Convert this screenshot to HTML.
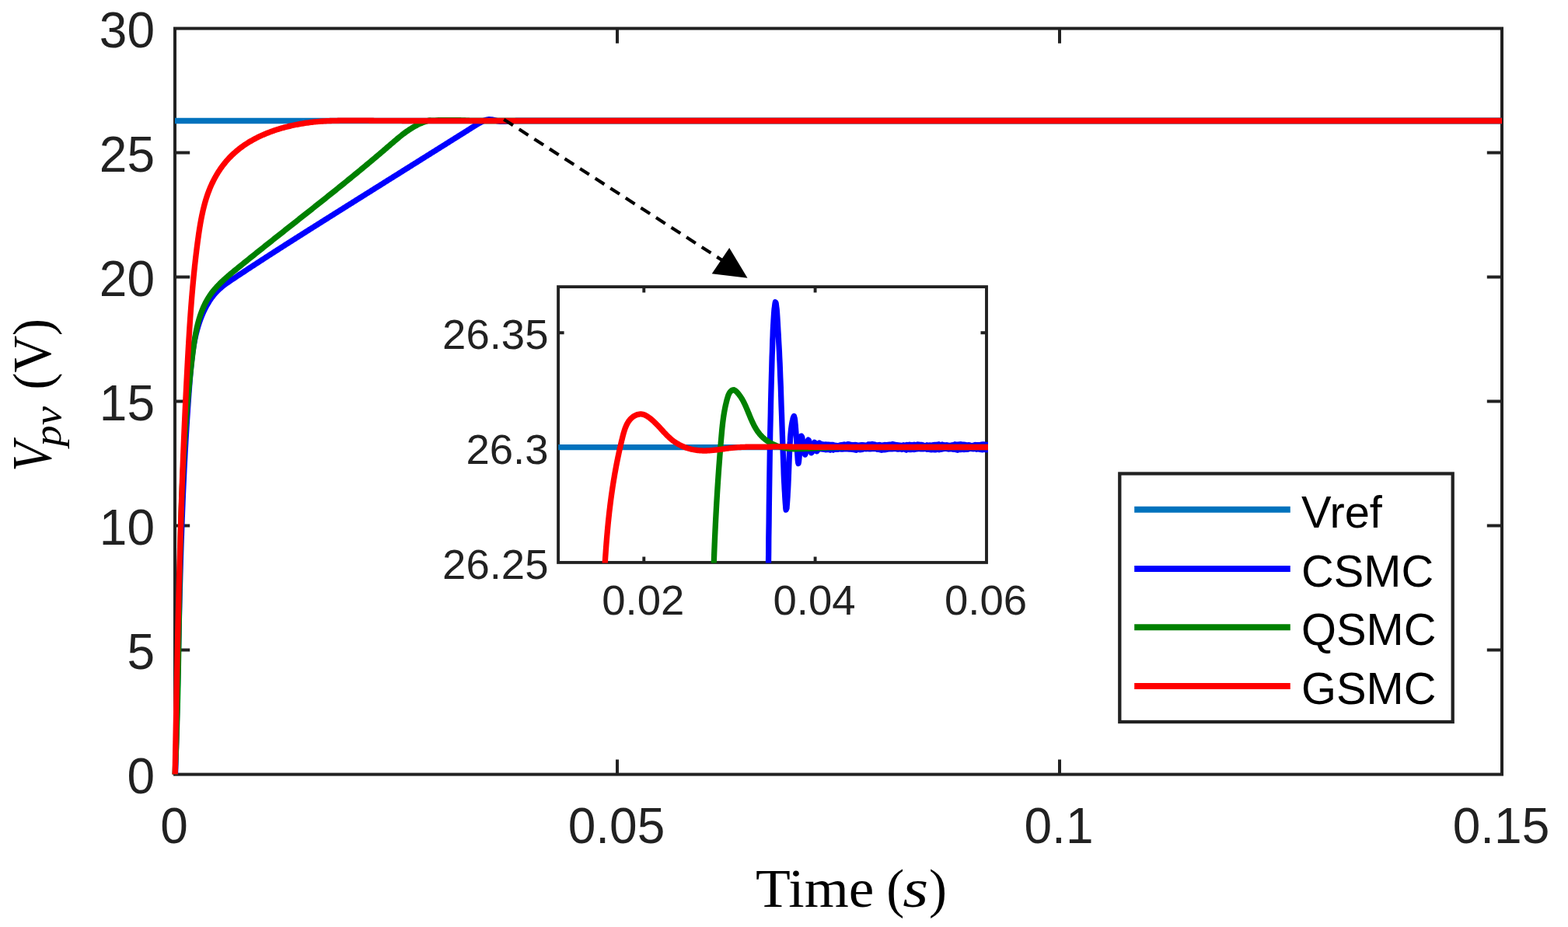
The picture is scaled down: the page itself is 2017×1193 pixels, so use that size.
<!DOCTYPE html>
<html><head><meta charset="utf-8"><title>Vpv response</title>
<style>html,body{margin:0;padding:0;background:#fff;}body{width:2017px;height:1193px;overflow:hidden;}svg{display:block;}</style>
</head><body>
<svg width="2017" height="1193" viewBox="0 0 2017 1193">
<rect width="2017" height="1193" fill="#fff"/>
<defs><clipPath id="cm"><rect x="225.0" y="36.6" width="1707.5" height="960.5"/></clipPath><clipPath id="ci"><rect x="718.1" y="369.1" width="552.9" height="355.4"/></clipPath></defs>
<g fill="none" stroke="#212121" stroke-width="4" stroke-linecap="butt">
<rect x="225.0" y="36.6" width="1707.0" height="960.0" stroke-linejoin="miter"/>
<path d="M794.0 996.6V977.4 M794.0 36.6V55.8 M1363.0 996.6V977.4 M1363.0 36.6V55.8 M225.0 836.6H244.2 M1932.0 836.6H1912.8 M225.0 676.6H244.2 M1932.0 676.6H1912.8 M225.0 516.6H244.2 M1932.0 516.6H1912.8 M225.0 356.6H244.2 M1932.0 356.6H1912.8 M225.0 196.6H244.2 M1932.0 196.6H1912.8"/>
</g>
<g font-family="'Liberation Sans', Arial, Helvetica, sans-serif" font-size="64" fill="#212121">
<text x="199" y="1021.2" text-anchor="end">0</text>
<text x="199" y="861.2" text-anchor="end">5</text>
<text x="199" y="701.2" text-anchor="end">10</text>
<text x="199" y="541.2" text-anchor="end">15</text>
<text x="199" y="381.2" text-anchor="end">20</text>
<text x="199" y="221.2" text-anchor="end">25</text>
<text x="199" y="61.2" text-anchor="end">30</text>
<text x="224.0" y="1084.5" text-anchor="middle">0</text>
<text x="793.0" y="1084.5" text-anchor="middle">0.05</text>
<text x="1362.0" y="1084.5" text-anchor="middle">0.1</text>
<text x="1931.0" y="1084.5" text-anchor="middle">0.15</text>
</g>
<g font-family="'Liberation Serif', 'Times New Roman', serif" font-size="69" fill="#000"><text x="972" y="1166.6" textLength="152.3" lengthAdjust="spacingAndGlyphs">Time</text><text x="1140.3" y="1166.6">(</text><text x="1161.3" y="1166.6" font-style="italic" textLength="33" lengthAdjust="spacingAndGlyphs">s</text><text x="1195" y="1166.6">)</text></g>
<g transform="translate(64.9,0) rotate(-90)" font-family="'Liberation Serif', 'Times New Roman', serif" fill="#000"><text x="-606.7" y="0" font-size="71.3" font-style="italic" textLength="37.8" lengthAdjust="spacingAndGlyphs">V</text><text x="-574.6" y="13.1" font-size="50" font-style="italic" textLength="51.5" lengthAdjust="spacingAndGlyphs">pv</text><text x="-501.6" y="0" font-size="69" textLength="91.6" lengthAdjust="spacingAndGlyphs">(V)</text></g>
<g fill="none" stroke-width="7.3" stroke-linejoin="miter" stroke-miterlimit="4" stroke-linecap="butt">
<path d="M225.0 155.5H1932.0" stroke="#0072BD"/>
<path d="M225.52 996.76 L225.56 995.47 L225.60 994.17 L225.64 992.87 L225.68 991.58 L225.72 990.28 L225.76 988.98 L225.79 987.69 L225.83 986.39 L225.87 985.10 L225.91 983.80 L225.94 982.51 L225.98 981.21 L226.02 979.92 L226.05 978.63 L226.09 977.33 L226.13 976.04 L226.16 974.74 L226.20 973.45 L226.23 972.16 L226.27 970.86 L226.31 969.57 L226.34 968.28 L226.38 966.99 L226.41 965.70 L226.45 964.40 L226.48 963.11 L226.52 961.82 L226.55 960.53 L226.58 959.24 L226.62 957.95 L226.65 956.65 L226.69 955.36 L226.72 954.07 L226.75 952.78 L226.79 951.49 L226.82 950.20 L226.85 948.91 L226.89 947.62 L226.92 946.33 L226.95 945.04 L226.99 943.76 L227.02 942.47 L227.05 941.18 L227.08 939.89 L227.11 938.60 L227.15 937.31 L227.18 936.02 L227.21 934.74 L227.24 933.45 L227.27 932.16 L227.31 930.87 L227.34 929.59 L227.37 928.30 L227.40 927.01 L227.43 925.73 L227.46 924.44 L227.49 923.15 L227.52 921.87 L227.55 920.58 L227.59 919.29 L227.62 918.01 L227.65 916.72 L227.68 915.44 L227.71 914.15 L227.74 912.86 L227.77 911.58 L227.80 910.29 L227.83 909.01 L227.86 907.72 L227.89 906.44 L227.92 905.16 L227.95 903.87 L227.98 902.59 L228.01 901.30 L228.04 900.02 L228.07 898.73 L228.09 897.45 L228.12 896.17 L228.15 894.88 L228.18 893.60 L228.21 892.32 L228.24 891.03 L228.27 889.75 L228.30 888.47 L228.33 887.19 L228.36 885.90 L228.39 884.62 L228.42 883.34 L228.44 882.06 L228.47 880.77 L228.50 879.49 L228.53 878.21 L228.56 876.93 L228.59 875.65 L228.62 874.36 L228.65 873.08 L228.67 871.80 L228.70 870.52 L228.73 869.24 L228.76 867.96 L228.79 866.68 L228.82 865.40 L228.85 864.12 L228.87 862.83 L228.90 861.55 L228.93 860.27 L228.96 858.99 L228.99 857.71 L229.02 856.43 L229.04 855.15 L229.07 853.87 L229.10 852.59 L229.13 851.31 L229.16 850.03 L229.19 848.75 L229.22 847.47 L229.24 846.20 L229.27 844.92 L229.30 843.64 L229.33 842.36 L229.36 841.08 L229.39 839.80 L229.42 838.52 L229.45 837.24 L229.47 835.96 L229.50 834.68 L229.53 833.40 L229.56 832.13 L229.59 830.85 L229.62 829.57 L229.65 828.29 L229.68 827.01 L229.70 825.73 L229.73 824.46 L229.76 823.18 L229.79 821.90 L229.82 820.62 L229.85 819.34 L229.88 818.07 L229.91 816.79 L229.94 815.51 L229.97 814.23 L230.00 812.96 L230.03 811.68 L230.06 810.40 L230.09 809.12 L230.12 807.85 L230.15 806.57 L230.18 805.29 L230.21 804.01 L230.24 802.74 L230.27 801.46 L230.30 800.18 L230.33 798.90 L230.36 797.63 L230.39 796.35 L230.42 795.07 L230.45 793.80 L230.48 792.52 L230.51 791.24 L230.54 789.97 L230.57 788.69 L230.60 787.41 L230.63 786.14 L230.67 784.86 L230.70 783.58 L230.73 782.31 L230.76 781.03 L230.79 779.75 L230.82 778.48 L230.86 777.20 L230.89 775.92 L230.92 774.65 L230.95 773.37 L230.99 772.09 L231.02 770.82 L231.05 769.54 L231.08 768.26 L231.12 766.99 L231.15 765.71 L231.18 764.44 L231.22 763.16 L231.25 761.88 L231.28 760.61 L231.32 759.33 L231.35 758.05 L231.38 756.78 L231.42 755.50 L231.45 754.22 L231.49 752.95 L231.52 751.67 L231.56 750.40 L231.59 749.12 L231.63 747.84 L231.66 746.57 L231.70 745.29 L231.73 744.01 L231.77 742.74 L231.80 741.46 L231.84 740.19 L231.87 738.91 L231.91 737.63 L231.95 736.36 L231.98 735.08 L232.02 733.80 L232.06 732.53 L232.09 731.25 L232.13 729.97 L232.17 728.70 L232.21 727.42 L232.25 726.15 L232.28 724.87 L232.32 723.59 L232.36 722.32 L232.40 721.04 L232.44 719.76 L232.48 718.49 L232.52 717.21 L232.55 715.93 L232.59 714.66 L232.63 713.38 L232.67 712.10 L232.71 710.83 L232.75 709.55 L232.79 708.27 L232.84 707.00 L232.88 705.72 L232.92 704.44 L232.96 703.16 L233.00 701.89 L233.04 700.61 L233.08 699.33 L233.13 698.06 L233.17 696.78 L233.21 695.50 L233.26 694.22 L233.30 692.95 L233.34 691.67 L233.39 690.39 L233.43 689.11 L233.47 687.84 L233.52 686.56 L233.56 685.28 L233.61 684.00 L233.65 682.73 L233.70 681.45 L233.74 680.17 L233.79 678.89 L233.84 677.61 L233.88 676.34 L233.93 675.06 L233.98 673.78 L234.02 672.50 L234.07 671.22 L234.12 669.94 L234.17 668.67 L234.21 667.39 L234.26 666.11 L234.31 664.83 L234.36 663.55 L234.41 662.27 L234.46 660.99 L234.51 659.71 L234.56 658.43 L234.61 657.15 L234.66 655.88 L234.71 654.60 L234.76 653.32 L234.81 652.04 L234.86 650.76 L234.92 649.48 L234.97 648.20 L235.02 646.92 L235.07 645.64 L235.13 644.36 L235.18 643.08 L235.24 641.80 L235.29 640.52 L235.34 639.24 L235.40 637.96 L235.45 636.67 L235.51 635.39 L235.56 634.11 L235.62 632.83 L235.68 631.55 L235.73 630.27 L235.79 628.99 L235.85 627.71 L235.91 626.43 L235.96 625.14 L236.02 623.86 L236.08 622.58 L236.14 621.30 L236.20 620.02 L236.26 618.73 L236.32 617.45 L236.38 616.17 L236.44 614.89 L236.50 613.60 L236.56 612.32 L236.62 611.04 L236.68 609.76 L236.75 608.47 L236.81 607.19 L236.87 605.91 L236.94 604.62 L237.00 603.34 L237.06 602.05 L237.13 600.77 L237.19 599.49 L237.26 598.20 L237.32 596.92 L237.39 595.63 L237.46 594.35 L237.52 593.06 L237.59 591.78 L237.66 590.49 L237.72 589.21 L237.79 587.92 L237.86 586.64 L237.93 585.35 L238.00 584.07 L238.07 582.78 L238.14 581.50 L238.21 580.21 L238.28 578.92 L238.35 577.64 L238.42 576.35 L238.49 575.06 L238.57 573.78 L238.64 572.49 L238.71 571.20 L238.79 569.91 L238.86 568.63 L238.93 567.34 L239.01 566.05 L239.08 564.76 L239.16 563.47 L239.24 562.19 L239.31 560.90 L239.39 559.61 L239.47 558.32 L239.54 557.03 L239.62 555.74 L239.70 554.45 L239.78 553.16 L239.86 551.87 L239.94 550.58 L240.02 549.29 L240.10 548.00 L240.18 546.71 L240.26 545.42 L240.35 544.13 L240.43 542.84 L240.51 541.55 L240.59 540.26 L240.68 538.97 L240.76 537.67 L240.85 536.38 L240.93 535.09 L241.02 533.80 L241.10 532.51 L241.19 531.21 L241.28 529.92 L241.36 528.63 L241.45 527.33 L241.54 526.04 L241.63 524.75 L241.72 523.45 L241.81 522.16 L241.90 520.86 L241.99 519.57 L242.08 518.28 L242.17 516.98 L242.26 515.69 L242.36 514.39 L242.45 513.10 L242.54 511.80 L242.64 510.50 L242.73 509.21 L242.83 507.91 L242.92 506.61 L243.02 505.32 L243.11 504.02 L243.21 502.72 L243.31 501.43 L243.41 500.13 L243.50 498.83 L243.60 497.53 L243.70 496.23 L243.80 494.94 L243.90 493.64 L244.00 492.34 L244.11 491.04 L244.21 489.74 L244.31 488.44 L244.41 487.14 L244.52 485.84 L244.62 484.54 L244.73 483.24 L244.84 481.94 L244.95 480.64 L245.06 479.34 L245.17 478.05 L245.28 476.75 L245.40 475.45 L245.52 474.15 L245.64 472.86 L245.76 471.56 L245.89 470.27 L246.02 468.97 L246.15 467.68 L246.28 466.39 L246.42 465.10 L246.56 463.81 L246.71 462.52 L246.86 461.23 L247.01 459.95 L247.17 458.66 L247.33 457.38 L247.49 456.10 L247.66 454.82 L247.84 453.54 L248.01 452.27 L248.20 450.99 L248.39 449.72 L248.58 448.45 L248.78 447.18 L248.99 445.92 L249.20 444.65 L249.41 443.39 L249.64 442.14 L249.86 440.88 L250.10 439.63 L250.34 438.38 L250.59 437.13 L250.84 435.89 L251.11 434.64 L251.37 433.40 L251.65 432.17 L251.93 430.94 L252.22 429.71 L252.52 428.48 L252.83 427.26 L253.14 426.04 L253.46 424.82 L253.79 423.61 L254.13 422.40 L254.48 421.19 L254.83 419.99 L255.20 418.80 L255.57 417.60 L255.96 416.41 L256.35 415.23 L256.75 414.05 L257.16 412.87 L257.58 411.70 L258.01 410.53 L258.45 409.36 L258.90 408.20 L259.36 407.05 L259.84 405.90 L260.32 404.75 L260.81 403.61 L261.32 402.48 L261.83 401.35 L262.36 400.22 L262.90 399.10 L263.45 397.98 L264.01 396.87 L264.58 395.77 L265.16 394.67 L265.76 393.57 L266.37 392.49 L266.99 391.40 L267.63 390.33 L268.28 389.25 L268.94 388.19 L269.61 387.14 L270.30 386.09 L271.00 385.05 L271.72 384.02 L272.45 383.00 L273.20 381.99 L273.96 381.00 L274.74 380.01 L275.53 379.04 L276.34 378.08 L277.17 377.13 L278.02 376.20 L278.88 375.29 L279.76 374.39 L280.65 373.50 L281.57 372.64 L282.50 371.78 L283.44 370.95 L284.41 370.12 L285.38 369.31 L286.37 368.51 L287.36 367.72 L288.37 366.94 L289.39 366.17 L290.42 365.41 L291.46 364.66 L292.50 363.92 L293.56 363.18 L294.61 362.45 L295.67 361.72 L296.74 361.00 L297.81 360.28 L298.88 359.57 L299.95 358.85 L301.02 358.14 L302.09 357.42 L303.17 356.71 L304.24 356.00 L305.31 355.29 L306.38 354.57 L307.46 353.86 L308.53 353.15 L309.60 352.44 L310.68 351.73 L311.75 351.02 L312.83 350.32 L313.90 349.61 L314.97 348.90 L316.05 348.19 L317.12 347.49 L318.20 346.78 L319.27 346.07 L320.35 345.37 L321.42 344.66 L322.50 343.96 L323.58 343.25 L324.65 342.55 L325.73 341.85 L326.80 341.14 L327.88 340.44 L328.96 339.74 L330.03 339.04 L331.11 338.34 L332.19 337.64 L333.27 336.94 L334.34 336.24 L335.42 335.54 L336.50 334.84 L337.58 334.14 L338.65 333.44 L339.73 332.74 L340.81 332.04 L341.89 331.35 L342.97 330.65 L344.05 329.95 L345.12 329.26 L346.20 328.56 L347.28 327.86 L348.36 327.17 L349.44 326.47 L350.52 325.78 L351.60 325.08 L352.68 324.39 L353.76 323.70 L354.84 323.00 L355.92 322.31 L357.00 321.62 L358.08 320.92 L359.16 320.23 L360.24 319.54 L361.32 318.85 L362.40 318.15 L363.49 317.46 L364.57 316.77 L365.65 316.08 L366.73 315.39 L367.81 314.70 L368.89 314.01 L369.97 313.32 L371.06 312.63 L372.14 311.94 L373.22 311.25 L374.30 310.56 L375.38 309.87 L376.47 309.19 L377.55 308.50 L378.63 307.81 L379.71 307.12 L380.80 306.43 L381.88 305.75 L382.96 305.06 L384.05 304.37 L385.13 303.69 L386.21 303.00 L387.30 302.31 L388.38 301.63 L389.46 300.94 L390.55 300.25 L391.63 299.57 L392.71 298.88 L393.80 298.20 L394.88 297.51 L395.97 296.83 L397.05 296.14 L398.13 295.46 L399.22 294.77 L400.30 294.09 L401.39 293.40 L402.47 292.72 L403.56 292.03 L404.64 291.35 L405.72 290.66 L406.81 289.98 L407.89 289.30 L408.98 288.61 L410.06 287.93 L411.15 287.24 L412.23 286.56 L413.32 285.88 L414.40 285.19 L415.49 284.51 L416.57 283.83 L417.66 283.14 L418.74 282.46 L419.83 281.78 L420.92 281.09 L422.00 280.41 L423.09 279.73 L424.17 279.04 L425.26 278.36 L426.34 277.68 L427.43 276.99 L428.51 276.31 L429.60 275.63 L430.69 274.94 L431.77 274.26 L432.86 273.58 L433.94 272.90 L435.03 272.21 L436.11 271.53 L437.20 270.85 L438.29 270.16 L439.37 269.48 L440.46 268.80 L441.55 268.12 L442.63 267.43 L443.72 266.75 L444.80 266.07 L445.89 265.38 L446.98 264.70 L448.06 264.02 L449.15 263.34 L450.24 262.65 L451.32 261.97 L452.41 261.29 L453.50 260.61 L454.58 259.93 L455.67 259.24 L456.76 258.56 L457.84 257.88 L458.93 257.20 L460.02 256.51 L461.10 255.83 L462.19 255.15 L463.28 254.47 L464.36 253.79 L465.45 253.10 L466.54 252.42 L467.62 251.74 L468.71 251.06 L469.80 250.37 L470.88 249.69 L471.97 249.01 L473.06 248.33 L474.14 247.65 L475.23 246.96 L476.32 246.28 L477.41 245.60 L478.49 244.92 L479.58 244.24 L480.67 243.56 L481.75 242.87 L482.84 242.19 L483.93 241.51 L485.02 240.83 L486.10 240.15 L487.19 239.46 L488.28 238.78 L489.36 238.10 L490.45 237.42 L491.54 236.74 L492.63 236.06 L493.71 235.37 L494.80 234.69 L495.89 234.01 L496.98 233.33 L498.06 232.65 L499.15 231.97 L500.24 231.28 L501.33 230.60 L502.41 229.92 L503.50 229.24 L504.59 228.56 L505.68 227.88 L506.76 227.19 L507.85 226.51 L508.94 225.83 L510.03 225.15 L511.11 224.47 L512.20 223.79 L513.29 223.10 L514.38 222.42 L515.46 221.74 L516.55 221.06 L517.64 220.38 L518.73 219.70 L519.81 219.02 L520.90 218.33 L521.99 217.65 L523.08 216.97 L524.16 216.29 L525.25 215.61 L526.34 214.93 L527.43 214.24 L528.51 213.56 L529.60 212.88 L530.69 212.20 L531.78 211.52 L532.86 210.84 L533.95 210.16 L535.04 209.47 L536.13 208.79 L537.21 208.11 L538.30 207.43 L539.39 206.75 L540.48 206.07 L541.56 205.38 L542.65 204.70 L543.74 204.02 L544.82 203.34 L545.91 202.66 L547.00 201.98 L548.09 201.29 L549.17 200.61 L550.26 199.93 L551.35 199.25 L552.44 198.57 L553.52 197.89 L554.61 197.20 L555.70 196.52 L556.79 195.84 L557.87 195.16 L558.96 194.48 L560.05 193.80 L561.13 193.11 L562.22 192.43 L563.31 191.75 L564.40 191.07 L565.48 190.39 L566.57 189.71 L567.66 189.02 L568.74 188.34 L569.83 187.66 L570.92 186.98 L572.01 186.30 L573.09 185.61 L574.18 184.93 L575.27 184.25 L576.35 183.57 L577.44 182.89 L578.53 182.21 L579.61 181.52 L580.70 180.84 L581.79 180.16 L582.87 179.48 L583.96 178.79 L585.05 178.11 L586.13 177.43 L587.22 176.75 L588.31 176.07 L589.39 175.38 L590.48 174.70 L591.57 174.02 L592.65 173.34 L593.74 172.66 L594.83 171.97 L595.91 171.29 L597.00 170.61 L598.09 169.93 L599.17 169.24 L600.26 168.56 L601.35 167.88 L602.43 167.20 L603.52 166.51 L604.60 165.83 L605.69 165.15 L606.78 164.47 L607.86 163.78 L608.95 163.10 L610.03 162.42 L611.12 161.74 L612.14 161.10 L613.19 160.45 L614.24 159.82 L615.29 159.21 L616.34 158.62 L617.44 158.02 L618.54 157.44 L619.64 156.86 L620.74 156.26 L621.84 155.66 L622.94 155.11 L624.09 154.65 L625.29 154.34 L626.49 154.10 L627.69 153.89 L628.89 153.75 L630.09 153.70 L631.29 153.77 L632.49 153.92 L633.69 154.13 L634.89 154.38 L636.09 154.62 L637.29 154.93 L638.44 155.31 L639.59 155.69 L640.79 156.02 L641.99 156.20 L643.19 156.27 L644.39 156.32 L645.59 156.36 L646.79 156.39 L647.99 156.40 L649.19 156.36 L650.39 156.26 L651.59 156.13 L652.79 155.99 L653.99 155.87 L655.19 155.79 L656.39 155.74 L657.59 155.69 L658.79 155.64 L659.99 155.59 L661.19 155.56 L662.39 155.53 L663.59 155.51 L664.79 155.50 L665.99 155.50 L667.24 155.50 L668.49 155.50 L669.74 155.50 L670.99 155.50 L672.24 155.50 L673.49 155.50 L674.74 155.50 L675.99 155.50 L677.24 155.50 L678.49 155.50 L679.74 155.50 L680.99 155.50 L682.24 155.50 L683.49 155.50 L684.74 155.50 L685.99 155.50 L687.24 155.50 L688.49 155.50 L689.74 155.50 L690.00 155.50 L1932 155.5" stroke="#0000FF"/>
<path d="M225.08 996.76 L225.14 995.52 L225.20 994.27 L225.26 993.03 L225.32 991.79 L225.38 990.55 L225.44 989.30 L225.50 988.06 L225.56 986.82 L225.61 985.58 L225.67 984.34 L225.73 983.10 L225.78 981.86 L225.84 980.62 L225.89 979.38 L225.95 978.14 L226.00 976.90 L226.05 975.66 L226.10 974.42 L226.16 973.18 L226.21 971.94 L226.26 970.70 L226.31 969.46 L226.36 968.22 L226.41 966.98 L226.46 965.74 L226.51 964.50 L226.56 963.26 L226.61 962.03 L226.65 960.79 L226.70 959.55 L226.75 958.31 L226.79 957.07 L226.84 955.84 L226.88 954.60 L226.93 953.36 L226.97 952.12 L227.02 950.89 L227.06 949.65 L227.10 948.41 L227.15 947.18 L227.19 945.94 L227.23 944.70 L227.27 943.47 L227.31 942.23 L227.35 940.99 L227.40 939.76 L227.43 938.52 L227.47 937.29 L227.51 936.05 L227.55 934.82 L227.59 933.58 L227.63 932.35 L227.67 931.11 L227.70 929.88 L227.74 928.64 L227.78 927.41 L227.81 926.17 L227.85 924.94 L227.89 923.70 L227.92 922.47 L227.96 921.23 L227.99 920.00 L228.02 918.77 L228.06 917.53 L228.09 916.30 L228.12 915.07 L228.16 913.83 L228.19 912.60 L228.22 911.37 L228.25 910.13 L228.29 908.90 L228.32 907.67 L228.35 906.43 L228.38 905.20 L228.41 903.97 L228.44 902.74 L228.47 901.50 L228.50 900.27 L228.53 899.04 L228.56 897.81 L228.58 896.58 L228.61 895.35 L228.64 894.11 L228.67 892.88 L228.70 891.65 L228.72 890.42 L228.75 889.19 L228.78 887.96 L228.80 886.73 L228.83 885.49 L228.86 884.26 L228.88 883.03 L228.91 881.80 L228.93 880.57 L228.96 879.34 L228.98 878.11 L229.01 876.88 L229.03 875.65 L229.06 874.42 L229.08 873.19 L229.11 871.96 L229.13 870.73 L229.15 869.50 L229.18 868.27 L229.20 867.04 L229.22 865.81 L229.25 864.58 L229.27 863.35 L229.29 862.12 L229.31 860.89 L229.33 859.66 L229.36 858.44 L229.38 857.21 L229.40 855.98 L229.42 854.75 L229.44 853.52 L229.46 852.29 L229.48 851.06 L229.51 849.83 L229.53 848.61 L229.55 847.38 L229.57 846.15 L229.59 844.92 L229.61 843.69 L229.63 842.46 L229.65 841.24 L229.67 840.01 L229.69 838.78 L229.71 837.55 L229.73 836.32 L229.75 835.10 L229.76 833.87 L229.78 832.64 L229.80 831.41 L229.82 830.19 L229.84 828.96 L229.86 827.73 L229.88 826.50 L229.90 825.28 L229.92 824.05 L229.93 822.82 L229.95 821.60 L229.97 820.37 L229.99 819.14 L230.01 817.91 L230.03 816.69 L230.04 815.46 L230.06 814.23 L230.08 813.01 L230.10 811.78 L230.12 810.55 L230.13 809.33 L230.15 808.10 L230.17 806.87 L230.19 805.65 L230.21 804.42 L230.22 803.19 L230.24 801.97 L230.26 800.74 L230.28 799.52 L230.29 798.29 L230.31 797.06 L230.33 795.84 L230.35 794.61 L230.37 793.38 L230.38 792.16 L230.40 790.93 L230.42 789.71 L230.44 788.48 L230.46 787.25 L230.47 786.03 L230.49 784.80 L230.51 783.58 L230.53 782.35 L230.55 781.13 L230.57 779.90 L230.58 778.67 L230.60 777.45 L230.62 776.22 L230.64 775.00 L230.66 773.77 L230.68 772.55 L230.70 771.32 L230.71 770.09 L230.73 768.87 L230.75 767.64 L230.77 766.42 L230.79 765.19 L230.81 763.97 L230.83 762.74 L230.85 761.52 L230.87 760.29 L230.89 759.07 L230.91 757.84 L230.93 756.61 L230.95 755.39 L230.97 754.16 L230.99 752.94 L231.01 751.71 L231.03 750.49 L231.05 749.26 L231.07 748.04 L231.09 746.81 L231.11 745.59 L231.13 744.36 L231.16 743.14 L231.18 741.91 L231.20 740.69 L231.22 739.46 L231.24 738.23 L231.27 737.01 L231.29 735.78 L231.31 734.56 L231.33 733.33 L231.36 732.11 L231.38 730.88 L231.40 729.66 L231.43 728.43 L231.45 727.21 L231.47 725.98 L231.50 724.76 L231.52 723.53 L231.55 722.30 L231.57 721.08 L231.60 719.85 L231.62 718.63 L231.65 717.40 L231.67 716.18 L231.70 714.95 L231.73 713.73 L231.75 712.50 L231.78 711.28 L231.81 710.05 L231.83 708.82 L231.86 707.60 L231.89 706.37 L231.92 705.15 L231.94 703.92 L231.97 702.70 L232.00 701.47 L232.03 700.24 L232.06 699.02 L232.09 697.79 L232.12 696.57 L232.15 695.34 L232.18 694.12 L232.21 692.89 L232.24 691.66 L232.27 690.44 L232.31 689.21 L232.34 687.99 L232.37 686.76 L232.40 685.53 L232.44 684.31 L232.47 683.08 L232.50 681.86 L232.54 680.63 L232.57 679.40 L232.61 678.18 L232.64 676.95 L232.68 675.72 L232.71 674.50 L232.75 673.27 L232.78 672.04 L232.82 670.82 L232.86 669.59 L232.89 668.36 L232.93 667.14 L232.97 665.91 L233.01 664.68 L233.05 663.46 L233.09 662.23 L233.13 661.00 L233.17 659.78 L233.21 658.55 L233.25 657.32 L233.29 656.10 L233.33 654.87 L233.37 653.64 L233.42 652.41 L233.46 651.19 L233.50 649.96 L233.55 648.73 L233.59 647.50 L233.64 646.28 L233.68 645.05 L233.73 643.82 L233.77 642.59 L233.82 641.36 L233.86 640.14 L233.91 638.91 L233.96 637.68 L234.01 636.45 L234.06 635.22 L234.11 634.00 L234.15 632.77 L234.20 631.54 L234.26 630.31 L234.31 629.08 L234.36 627.85 L234.41 626.63 L234.46 625.40 L234.52 624.17 L234.57 622.94 L234.62 621.71 L234.68 620.48 L234.73 619.25 L234.79 618.02 L234.84 616.79 L234.90 615.56 L234.96 614.33 L235.01 613.10 L235.07 611.87 L235.13 610.64 L235.19 609.42 L235.25 608.19 L235.31 606.96 L235.37 605.73 L235.43 604.50 L235.49 603.26 L235.55 602.03 L235.62 600.80 L235.68 599.57 L235.74 598.34 L235.81 597.11 L235.87 595.88 L235.94 594.65 L236.01 593.42 L236.07 592.19 L236.14 590.96 L236.21 589.73 L236.28 588.49 L236.35 587.26 L236.42 586.03 L236.49 584.80 L236.56 583.57 L236.63 582.34 L236.70 581.10 L236.77 579.87 L236.85 578.64 L236.92 577.41 L237.00 576.18 L237.07 574.94 L237.15 573.71 L237.22 572.48 L237.30 571.25 L237.38 570.01 L237.46 568.78 L237.54 567.55 L237.62 566.31 L237.70 565.08 L237.78 563.85 L237.86 562.61 L237.94 561.38 L238.02 560.15 L238.11 558.91 L238.19 557.68 L238.28 556.44 L238.36 555.21 L238.45 553.97 L238.54 552.74 L238.62 551.51 L238.71 550.27 L238.80 549.04 L238.89 547.80 L238.98 546.57 L239.07 545.33 L239.17 544.09 L239.26 542.86 L239.35 541.62 L239.45 540.39 L239.54 539.15 L239.64 537.92 L239.73 536.68 L239.83 535.44 L239.93 534.21 L240.03 532.97 L240.13 531.73 L240.23 530.50 L240.33 529.26 L240.43 528.02 L240.53 526.79 L240.64 525.55 L240.74 524.31 L240.84 523.07 L240.95 521.83 L241.06 520.60 L241.16 519.36 L241.27 518.12 L241.38 516.88 L241.49 515.64 L241.60 514.41 L241.71 513.17 L241.82 511.93 L241.93 510.69 L242.05 509.45 L242.16 508.21 L242.28 506.97 L242.39 505.73 L242.51 504.49 L242.63 503.25 L242.75 502.01 L242.86 500.77 L242.98 499.53 L243.11 498.29 L243.23 497.05 L243.35 495.81 L243.47 494.57 L243.60 493.32 L243.72 492.08 L243.85 490.84 L243.97 489.60 L244.10 488.36 L244.23 487.12 L244.36 485.87 L244.49 484.63 L244.62 483.39 L244.75 482.15 L244.89 480.90 L245.02 479.66 L245.16 478.42 L245.29 477.17 L245.43 475.93 L245.57 474.69 L245.70 473.44 L245.84 472.20 L245.98 470.95 L246.12 469.71 L246.27 468.46 L246.41 467.22 L246.55 465.97 L246.70 464.73 L246.84 463.48 L246.99 462.24 L247.14 460.99 L247.29 459.75 L247.44 458.50 L247.59 457.26 L247.74 456.01 L247.89 454.76 L248.05 453.52 L248.20 452.27 L248.36 451.03 L248.53 449.78 L248.69 448.54 L248.86 447.30 L249.02 446.06 L249.20 444.82 L249.37 443.58 L249.55 442.34 L249.73 441.10 L249.92 439.87 L250.11 438.64 L250.30 437.40 L250.50 436.18 L250.71 434.95 L250.91 433.72 L251.13 432.50 L251.34 431.28 L251.57 430.06 L251.80 428.85 L252.03 427.64 L252.27 426.43 L252.52 425.22 L252.77 424.02 L253.03 422.82 L253.29 421.62 L253.57 420.43 L253.85 419.24 L254.13 418.06 L254.43 416.88 L254.73 415.70 L255.04 414.53 L255.36 413.36 L255.68 412.19 L256.02 411.03 L256.36 409.88 L256.71 408.73 L257.07 407.58 L257.51 406.21 L257.97 404.85 L258.44 403.50 L258.93 402.16 L259.43 400.82 L259.94 399.49 L260.47 398.17 L261.02 396.86 L261.58 395.55 L262.16 394.26 L262.75 392.98 L263.36 391.70 L263.99 390.43 L264.63 389.18 L265.30 387.93 L265.98 386.70 L266.68 385.47 L267.39 384.26 L268.13 383.06 L268.89 381.86 L269.66 380.68 L270.46 379.51 L271.28 378.36 L272.11 377.21 L272.97 376.08 L273.85 374.96 L274.74 373.84 L275.66 372.74 L276.59 371.65 L277.54 370.57 L278.34 369.68 L279.15 368.79 L279.98 367.91 L280.81 367.04 L281.65 366.17 L282.51 365.31 L283.37 364.45 L284.24 363.60 L285.12 362.75 L286.01 361.91 L286.90 361.07 L287.81 360.24 L288.72 359.41 L289.63 358.58 L290.55 357.76 L291.48 356.95 L292.41 356.13 L293.35 355.32 L294.29 354.51 L295.24 353.71 L296.19 352.91 L297.14 352.11 L298.10 351.31 L299.06 350.51 L300.02 349.72 L300.98 348.93 L301.95 348.13 L302.91 347.34 L303.88 346.56 L304.85 345.77 L305.81 344.98 L306.78 344.19 L307.75 343.41 L308.72 342.62 L309.68 341.83 L310.65 341.05 L311.62 340.27 L312.59 339.48 L313.55 338.70 L314.52 337.92 L315.49 337.13 L316.46 336.35 L317.43 335.57 L318.39 334.79 L319.36 334.01 L320.33 333.23 L321.30 332.45 L322.27 331.67 L323.23 330.89 L324.20 330.12 L325.17 329.34 L326.14 328.56 L327.11 327.79 L328.07 327.01 L329.04 326.23 L330.01 325.46 L330.98 324.68 L331.95 323.91 L332.92 323.14 L333.88 322.36 L334.85 321.59 L335.82 320.82 L336.79 320.04 L337.76 319.27 L338.73 318.50 L339.69 317.73 L340.66 316.96 L341.63 316.19 L342.60 315.41 L343.57 314.64 L344.53 313.87 L345.50 313.10 L346.47 312.34 L347.44 311.57 L348.41 310.80 L349.38 310.03 L350.34 309.26 L351.31 308.49 L352.28 307.73 L353.25 306.96 L354.21 306.19 L355.18 305.42 L356.15 304.66 L357.12 303.89 L358.09 303.13 L359.05 302.36 L360.02 301.59 L360.99 300.83 L361.96 300.06 L362.92 299.30 L363.89 298.53 L364.86 297.77 L365.82 297.00 L366.79 296.24 L367.76 295.48 L368.72 294.71 L369.69 293.95 L370.66 293.18 L371.62 292.42 L372.59 291.66 L373.56 290.89 L374.52 290.13 L375.49 289.37 L376.46 288.60 L377.42 287.84 L378.39 287.08 L379.35 286.31 L380.32 285.55 L381.29 284.79 L382.25 284.02 L383.22 283.26 L384.18 282.50 L385.15 281.74 L386.11 280.97 L387.08 280.21 L388.04 279.45 L389.01 278.69 L389.97 277.92 L390.94 277.16 L391.90 276.40 L392.86 275.64 L393.83 274.87 L394.79 274.11 L395.76 273.35 L396.72 272.59 L397.68 271.82 L398.65 271.06 L399.61 270.30 L400.57 269.53 L401.54 268.77 L402.50 268.01 L403.46 267.25 L404.42 266.48 L405.39 265.72 L406.35 264.95 L407.31 264.19 L408.27 263.43 L409.23 262.66 L410.20 261.90 L411.16 261.14 L412.12 260.37 L413.08 259.61 L414.04 258.84 L415.00 258.08 L415.96 257.31 L416.92 256.55 L417.88 255.78 L418.84 255.02 L419.80 254.25 L420.76 253.49 L421.72 252.72 L422.68 251.95 L423.64 251.19 L424.59 250.42 L425.55 249.65 L426.51 248.88 L427.47 248.12 L428.43 247.35 L429.38 246.58 L430.34 245.81 L431.30 245.04 L432.26 244.28 L433.21 243.51 L434.17 242.74 L435.12 241.97 L436.08 241.20 L437.04 240.43 L437.99 239.66 L438.95 238.88 L439.90 238.11 L440.86 237.34 L441.81 236.57 L442.76 235.80 L443.72 235.02 L444.67 234.25 L445.63 233.48 L446.58 232.70 L447.53 231.93 L448.48 231.15 L449.44 230.38 L450.39 229.60 L451.34 228.83 L452.29 228.05 L453.24 227.27 L454.20 226.50 L455.15 225.72 L456.10 224.94 L457.05 224.16 L458.00 223.38 L458.95 222.60 L459.90 221.82 L460.85 221.04 L461.79 220.26 L462.74 219.48 L463.69 218.70 L464.64 217.91 L465.59 217.13 L466.53 216.35 L467.48 215.56 L468.43 214.78 L469.37 213.99 L470.32 213.21 L471.27 212.42 L472.21 211.63 L473.16 210.85 L474.10 210.06 L475.05 209.27 L475.99 208.48 L476.93 207.69 L477.88 206.90 L478.82 206.11 L479.76 205.32 L480.70 204.52 L481.65 203.73 L482.59 202.94 L483.53 202.14 L484.47 201.35 L485.41 200.55 L486.35 199.76 L487.29 198.96 L488.23 198.16 L489.17 197.36 L490.11 196.56 L491.05 195.76 L491.99 194.96 L492.93 194.16 L493.86 193.36 L494.80 192.56 L495.74 191.76 L496.67 190.95 L497.61 190.15 L498.54 189.34 L499.48 188.53 L500.41 187.73 L501.35 186.92 L502.28 186.11 L503.22 185.30 L504.15 184.50 L505.09 183.69 L506.02 182.88 L506.96 182.08 L507.90 181.28 L508.84 180.48 L509.78 179.69 L510.73 178.89 L511.67 178.10 L512.62 177.32 L513.57 176.54 L514.53 175.77 L515.48 175.00 L516.44 174.24 L517.41 173.48 L518.38 172.73 L519.35 171.99 L520.33 171.25 L521.31 170.52 L522.29 169.81 L523.29 169.10 L524.28 168.40 L525.28 167.70 L526.29 167.02 L527.31 166.35 L528.33 165.69 L529.35 165.05 L530.39 164.41 L531.43 163.79 L532.47 163.18 L533.53 162.58 L534.59 161.99 L535.66 161.42 L536.74 160.86 L537.83 160.32 L538.93 159.80 L540.03 159.28 L541.14 158.79 L542.27 158.31 L543.40 157.85 L544.54 157.40 L545.70 156.98 L546.86 156.57 L548.03 156.18 L549.22 155.80 L550.41 155.45 L551.62 155.12 L552.84 154.89 L554.04 154.98 L555.24 155.04 L556.44 155.08 L557.64 155.10 L558.84 155.09 L560.04 155.02 L561.24 154.93 L562.44 154.83 L563.64 154.75 L564.84 154.70 L566.04 154.69 L567.24 154.67 L568.44 154.66 L569.64 154.65 L570.84 154.64 L572.04 154.63 L573.24 154.62 L574.44 154.61 L575.64 154.61 L576.84 154.60 L578.04 154.60 L579.24 154.60 L580.44 154.60 L581.64 154.60 L582.84 154.61 L584.04 154.62 L585.24 154.64 L586.44 154.65 L587.64 154.67 L588.84 154.69 L590.04 154.72 L591.24 154.74 L592.44 154.77 L593.64 154.79 L594.84 154.82 L596.04 154.87 L597.24 154.93 L598.44 154.99 L599.64 155.06 L600.84 155.13 L602.04 155.19 L603.24 155.24 L604.44 155.29 L605.64 155.31 L606.84 155.34 L608.04 155.36 L609.24 155.39 L610.44 155.41 L611.64 155.43 L612.84 155.44 L614.04 155.46 L615.24 155.47 L616.44 155.49 L617.64 155.49 L618.84 155.50 L620.04 155.50 L621.29 155.50 L622.54 155.50 L623.79 155.50 L625.04 155.50 L626.29 155.50 L627.54 155.50 L628.79 155.50 L630.04 155.50 L631.29 155.50 L632.54 155.50 L633.79 155.50 L635.04 155.50 L636.29 155.50 L637.54 155.50 L638.79 155.50 L640.04 155.50 L641.29 155.50 L642.54 155.50 L643.79 155.50 L645.04 155.50 L646.29 155.50 L647.54 155.50 L648.79 155.50 L650.04 155.50 L651.29 155.50 L652.54 155.50 L653.79 155.50 L655.04 155.50 L656.29 155.50 L657.54 155.50 L658.79 155.50 L660.00 155.50 L660.00 155.50 L1932 155.5" stroke="#008000"/>
<path d="M225.16 996.53 L225.18 995.10 L225.21 993.68 L225.23 992.26 L225.26 990.84 L225.29 989.42 L225.31 988.00 L225.34 986.58 L225.36 985.16 L225.39 983.74 L225.42 982.32 L225.44 980.90 L225.47 979.48 L225.50 978.06 L225.52 976.64 L225.55 975.21 L225.57 973.79 L225.60 972.37 L225.63 970.95 L225.65 969.53 L225.68 968.11 L225.71 966.68 L225.73 965.26 L225.76 963.84 L225.78 962.42 L225.81 961.00 L225.84 959.57 L225.86 958.15 L225.89 956.73 L225.92 955.31 L225.94 953.89 L225.97 952.46 L226.00 951.04 L226.02 949.62 L226.05 948.20 L226.08 946.77 L226.10 945.35 L226.13 943.93 L226.16 942.50 L226.18 941.08 L226.21 939.66 L226.24 938.23 L226.26 936.81 L226.29 935.39 L226.32 933.96 L226.34 932.54 L226.37 931.12 L226.40 929.69 L226.43 928.27 L226.45 926.85 L226.48 925.42 L226.51 924.00 L226.53 922.58 L226.56 921.15 L226.59 919.73 L226.62 918.30 L226.64 916.88 L226.67 915.46 L226.70 914.03 L226.73 912.61 L226.75 911.18 L226.78 909.76 L226.81 908.33 L226.84 906.91 L226.87 905.48 L226.89 904.06 L226.92 902.64 L226.95 901.21 L226.98 899.79 L227.01 898.36 L227.03 896.94 L227.06 895.51 L227.09 894.09 L227.12 892.66 L227.15 891.24 L227.18 889.81 L227.20 888.39 L227.23 886.96 L227.26 885.54 L227.29 884.11 L227.32 882.69 L227.35 881.26 L227.38 879.83 L227.41 878.41 L227.43 876.98 L227.46 875.56 L227.49 874.13 L227.52 872.71 L227.55 871.28 L227.58 869.86 L227.61 868.43 L227.64 867.00 L227.67 865.58 L227.70 864.15 L227.73 862.73 L227.76 861.30 L227.79 859.87 L227.82 858.45 L227.85 857.02 L227.88 855.60 L227.91 854.17 L227.94 852.74 L227.97 851.32 L228.00 849.89 L228.03 848.46 L228.06 847.04 L228.09 845.61 L228.12 844.19 L228.15 842.76 L228.18 841.33 L228.21 839.91 L228.24 838.48 L228.27 837.05 L228.31 835.63 L228.34 834.20 L228.37 832.77 L228.40 831.35 L228.43 829.92 L228.46 828.49 L228.49 827.07 L228.53 825.64 L228.56 824.21 L228.59 822.78 L228.62 821.36 L228.65 819.93 L228.69 818.50 L228.72 817.08 L228.75 815.65 L228.78 814.22 L228.82 812.80 L228.85 811.37 L228.88 809.94 L228.91 808.51 L228.95 807.09 L228.98 805.66 L229.01 804.23 L229.05 802.81 L229.08 801.38 L229.11 799.95 L229.15 798.52 L229.18 797.10 L229.21 795.67 L229.25 794.24 L229.28 792.81 L229.32 791.39 L229.35 789.96 L229.39 788.53 L229.42 787.11 L229.45 785.68 L229.49 784.25 L229.52 782.82 L229.56 781.40 L229.59 779.97 L229.63 778.54 L229.66 777.11 L229.70 775.69 L229.73 774.26 L229.77 772.83 L229.81 771.40 L229.84 769.98 L229.88 768.55 L229.91 767.12 L229.95 765.69 L229.99 764.27 L230.02 762.84 L230.06 761.41 L230.10 759.98 L230.13 758.55 L230.17 757.13 L230.21 755.70 L230.24 754.27 L230.28 752.84 L230.32 751.42 L230.36 749.99 L230.39 748.56 L230.43 747.13 L230.47 745.71 L230.51 744.28 L230.54 742.85 L230.58 741.42 L230.62 740.00 L230.66 738.57 L230.70 737.14 L230.74 735.71 L230.78 734.29 L230.82 732.86 L230.85 731.43 L230.89 730.00 L230.93 728.57 L230.97 727.15 L231.01 725.72 L231.05 724.29 L231.09 722.86 L231.13 721.44 L231.17 720.01 L231.21 718.58 L231.25 717.15 L231.30 715.73 L231.34 714.30 L231.38 712.87 L231.42 711.44 L231.46 710.02 L231.50 708.59 L231.54 707.16 L231.58 705.73 L231.63 704.31 L231.67 702.88 L231.71 701.45 L231.75 700.02 L231.80 698.60 L231.84 697.17 L231.88 695.74 L231.92 694.31 L231.97 692.89 L232.01 691.46 L232.05 690.03 L232.10 688.61 L232.14 687.18 L232.19 685.75 L232.23 684.32 L232.27 682.90 L232.32 681.47 L232.36 680.04 L232.41 678.61 L232.45 677.19 L232.50 675.76 L232.54 674.33 L232.59 672.91 L232.63 671.48 L232.68 670.05 L232.72 668.63 L232.77 667.20 L232.82 665.77 L232.86 664.34 L232.91 662.92 L232.96 661.49 L233.00 660.06 L233.05 658.64 L233.10 657.21 L233.15 655.78 L233.19 654.36 L233.24 652.93 L233.29 651.50 L233.34 650.08 L233.39 648.65 L233.43 647.22 L233.48 645.80 L233.53 644.37 L233.58 642.94 L233.63 641.52 L233.68 640.09 L233.73 638.66 L233.78 637.24 L233.83 635.81 L233.88 634.39 L233.93 632.96 L233.98 631.53 L234.03 630.11 L234.08 628.68 L234.13 627.25 L234.18 625.83 L234.23 624.40 L234.29 622.98 L234.34 621.55 L234.39 620.12 L234.44 618.70 L234.49 617.27 L234.55 615.85 L234.60 614.42 L234.65 613.00 L234.71 611.57 L234.76 610.14 L234.81 608.72 L234.87 607.29 L234.92 605.87 L234.97 604.44 L235.03 603.02 L235.08 601.59 L235.14 600.17 L235.19 598.74 L235.25 597.32 L235.30 595.89 L235.36 594.47 L235.41 593.04 L235.47 591.62 L235.53 590.19 L235.58 588.77 L235.64 587.34 L235.70 585.92 L235.75 584.49 L235.81 583.07 L235.87 581.64 L235.92 580.22 L235.98 578.79 L236.04 577.37 L236.10 575.95 L236.16 574.52 L236.22 573.10 L236.27 571.67 L236.33 570.25 L236.39 568.82 L236.45 567.40 L236.51 565.98 L236.57 564.55 L236.63 563.13 L236.69 561.70 L236.75 560.28 L236.81 558.86 L236.88 557.43 L236.94 556.01 L237.00 554.59 L237.06 553.16 L237.12 551.74 L237.18 550.32 L237.25 548.89 L237.31 547.47 L237.37 546.05 L237.43 544.62 L237.50 543.20 L237.56 541.78 L237.63 540.35 L237.69 538.93 L237.75 537.51 L237.82 536.09 L237.88 534.66 L237.95 533.24 L238.01 531.82 L238.08 530.40 L238.14 528.97 L238.21 527.55 L238.28 526.13 L238.34 524.71 L238.41 523.29 L238.48 521.86 L238.54 520.44 L238.61 519.02 L238.68 517.60 L238.75 516.18 L238.81 514.75 L238.88 513.33 L238.95 511.91 L239.02 510.49 L239.09 509.07 L239.16 507.65 L239.23 506.23 L239.30 504.81 L239.37 503.39 L239.44 501.96 L239.51 500.54 L239.58 499.12 L239.65 497.70 L239.72 496.28 L239.79 494.86 L239.86 493.44 L239.94 492.02 L240.01 490.60 L240.08 489.18 L240.15 487.76 L240.23 486.34 L240.30 484.92 L240.37 483.50 L240.45 482.08 L240.52 480.66 L240.60 479.24 L240.67 477.82 L240.74 476.40 L240.82 474.98 L240.90 473.56 L240.97 472.15 L241.05 470.73 L241.12 469.31 L241.20 467.89 L241.28 466.47 L241.35 465.05 L241.43 463.63 L241.51 462.21 L241.59 460.80 L241.66 459.38 L241.74 457.96 L241.82 456.54 L241.90 455.12 L241.98 453.71 L242.06 452.29 L242.14 450.87 L242.22 449.45 L242.30 448.03 L242.38 446.62 L242.46 445.20 L242.54 443.78 L242.63 442.36 L242.71 440.95 L242.79 439.53 L242.88 438.11 L242.96 436.69 L243.05 435.28 L243.13 433.86 L243.22 432.44 L243.30 431.03 L243.39 429.61 L243.48 428.19 L243.57 426.77 L243.66 425.36 L243.75 423.94 L243.84 422.52 L243.93 421.10 L244.02 419.68 L244.11 418.27 L244.21 416.85 L244.30 415.43 L244.39 414.01 L244.49 412.60 L244.59 411.18 L244.68 409.76 L244.78 408.34 L244.88 406.92 L244.98 405.50 L245.08 404.09 L245.18 402.67 L245.28 401.25 L245.39 399.83 L245.49 398.41 L245.60 396.99 L245.70 395.57 L245.81 394.15 L245.92 392.73 L246.03 391.31 L246.14 389.89 L246.25 388.47 L246.36 387.05 L246.47 385.63 L246.59 384.21 L246.70 382.79 L246.82 381.37 L246.94 379.95 L247.05 378.53 L247.17 377.11 L247.30 375.68 L247.42 374.26 L247.54 372.84 L247.67 371.42 L247.79 369.99 L247.92 368.57 L248.05 367.15 L248.18 365.72 L248.31 364.30 L248.44 362.88 L248.57 361.45 L248.71 360.03 L248.85 358.60 L248.98 357.18 L249.12 355.75 L249.26 354.33 L249.41 352.90 L249.55 351.48 L249.69 350.05 L249.84 348.62 L249.99 347.20 L250.14 345.77 L250.29 344.34 L250.44 342.91 L250.59 341.48 L250.75 340.05 L250.91 338.63 L251.07 337.20 L251.23 335.77 L251.39 334.34 L251.55 332.91 L251.69 331.71 L251.83 330.52 L251.97 329.33 L252.11 328.13 L252.25 326.94 L252.40 325.75 L252.54 324.55 L252.69 323.36 L252.83 322.16 L252.98 320.97 L253.13 319.77 L253.28 318.58 L253.43 317.38 L253.59 316.19 L253.74 314.99 L253.90 313.79 L254.06 312.60 L254.21 311.40 L254.37 310.20 L254.54 309.00 L254.70 307.81 L254.86 306.61 L255.03 305.41 L255.20 304.21 L255.36 303.01 L255.54 301.81 L255.71 300.61 L255.89 299.42 L256.06 298.22 L256.24 297.02 L256.43 295.83 L256.61 294.63 L256.80 293.44 L257.00 292.24 L257.19 291.05 L257.39 289.86 L257.59 288.66 L257.80 287.47 L258.00 286.28 L258.22 285.10 L258.43 283.91 L258.65 282.73 L258.88 281.54 L259.11 280.36 L259.34 279.18 L259.58 278.00 L259.82 276.82 L260.07 275.65 L260.37 274.24 L260.68 272.84 L261.00 271.44 L261.32 270.04 L261.66 268.65 L262.00 267.26 L262.35 265.87 L262.70 264.49 L263.07 263.11 L263.44 261.73 L263.83 260.36 L264.22 259.00 L264.63 257.64 L265.04 256.28 L265.46 254.93 L265.89 253.58 L266.34 252.24 L266.79 250.90 L267.26 249.57 L267.73 248.25 L268.22 246.93 L268.72 245.61 L269.23 244.31 L269.75 243.00 L270.28 241.71 L270.83 240.42 L271.39 239.14 L271.96 237.86 L272.54 236.59 L273.14 235.33 L273.74 234.08 L274.36 232.83 L274.99 231.59 L275.64 230.35 L276.29 229.13 L276.96 227.91 L277.64 226.70 L278.33 225.50 L279.04 224.31 L279.76 223.12 L280.49 221.94 L281.23 220.78 L281.98 219.62 L282.75 218.47 L283.53 217.32 L284.32 216.19 L285.12 215.07 L285.94 213.95 L286.77 212.85 L287.61 211.76 L288.46 210.67 L289.33 209.60 L290.21 208.53 L291.10 207.48 L292.01 206.43 L292.92 205.40 L293.85 204.37 L294.79 203.36 L295.75 202.36 L296.72 201.37 L297.70 200.39 L298.69 199.42 L299.70 198.47 L300.71 197.52 L301.74 196.59 L302.79 195.67 L303.84 194.76 L304.91 193.86 L305.99 192.97 L307.08 192.09 L308.19 191.23 L309.30 190.38 L310.42 189.54 L311.56 188.71 L312.71 187.89 L313.86 187.08 L315.03 186.29 L316.21 185.50 L317.40 184.73 L318.59 183.97 L319.80 183.22 L321.02 182.48 L322.24 181.75 L323.47 181.03 L324.72 180.33 L325.97 179.63 L327.23 178.95 L328.49 178.28 L329.77 177.62 L331.05 176.97 L332.34 176.33 L333.42 175.81 L334.51 175.29 L335.60 174.78 L336.70 174.28 L337.80 173.79 L338.90 173.30 L340.01 172.82 L341.12 172.35 L342.24 171.89 L343.36 171.43 L344.49 170.99 L345.62 170.54 L346.75 170.11 L347.89 169.69 L349.03 169.27 L350.17 168.85 L351.32 168.45 L352.47 168.05 L353.62 167.66 L354.77 167.28 L355.93 166.90 L357.09 166.53 L358.26 166.17 L359.42 165.82 L360.59 165.47 L361.76 165.12 L362.93 164.79 L364.11 164.46 L365.28 164.14 L366.46 163.82 L367.64 163.52 L368.82 163.21 L370.00 162.92 L371.19 162.63 L372.37 162.34 L373.56 162.07 L374.74 161.80 L375.93 161.53 L377.12 161.28 L378.30 161.02 L379.49 160.78 L380.68 160.54 L381.87 160.31 L383.06 160.08 L384.25 159.86 L385.44 159.64 L386.63 159.43 L387.81 159.23 L389.00 159.03 L390.19 158.84 L391.37 158.65 L392.80 158.43 L394.22 158.23 L395.64 158.02 L397.05 157.83 L398.47 157.65 L399.88 157.47 L401.29 157.30 L402.70 157.14 L404.10 156.99 L405.50 156.84 L406.90 156.70 L408.30 156.57 L409.69 156.44 L411.08 156.32 L412.46 156.21 L413.84 156.11 L415.21 156.01 L416.58 155.92 L417.95 155.84 L419.30 155.76 L420.66 155.69 L422.01 155.63 L423.35 155.58 L424.69 155.52 L426.02 155.48 L427.34 155.44 L428.66 155.41 L429.86 155.38 L431.06 155.35 L432.26 155.32 L433.46 155.29 L434.66 155.26 L435.86 155.24 L437.06 155.21 L438.26 155.19 L439.46 155.17 L440.66 155.15 L441.86 155.13 L443.06 155.12 L444.26 155.11 L445.46 155.10 L446.66 155.10 L447.86 155.10 L449.06 155.10 L450.26 155.10 L451.46 155.11 L452.66 155.11 L453.86 155.11 L455.06 155.12 L456.26 155.12 L457.46 155.13 L458.66 155.14 L459.86 155.14 L461.06 155.15 L462.26 155.16 L463.46 155.16 L464.66 155.17 L465.86 155.18 L467.06 155.18 L468.26 155.19 L469.46 155.20 L470.66 155.20 L471.86 155.21 L473.06 155.22 L474.26 155.22 L475.46 155.23 L476.66 155.24 L477.86 155.25 L479.06 155.26 L480.26 155.27 L481.46 155.28 L482.66 155.29 L483.86 155.29 L485.06 155.30 L486.26 155.31 L487.46 155.32 L488.66 155.33 L489.86 155.34 L491.06 155.35 L492.26 155.36 L493.46 155.36 L494.66 155.37 L495.86 155.38 L497.06 155.39 L498.26 155.39 L499.46 155.40 L500.66 155.40 L501.86 155.41 L503.06 155.41 L504.26 155.42 L505.46 155.42 L506.66 155.43 L507.86 155.44 L509.06 155.44 L510.26 155.45 L511.46 155.45 L512.66 155.46 L513.86 155.46 L515.06 155.47 L516.26 155.47 L517.46 155.48 L518.66 155.48 L519.86 155.48 L521.06 155.49 L522.26 155.49 L523.46 155.49 L524.66 155.50 L525.86 155.50 L527.06 155.50 L528.26 155.50 L529.46 155.50 L530.66 155.50 L531.86 155.50 L533.06 155.50 L534.26 155.50 L535.46 155.50 L536.66 155.50 L537.86 155.50 L539.06 155.50 L540.26 155.50 L541.46 155.50 L542.66 155.50 L543.86 155.50 L545.06 155.50 L546.26 155.50 L547.46 155.50 L548.66 155.50 L549.86 155.50 L551.06 155.50 L552.26 155.50 L553.46 155.50 L554.66 155.50 L555.86 155.50 L557.06 155.50 L558.26 155.50 L559.46 155.50 L560.00 155.50 L1932 155.5" stroke="#FF0000"/>
</g>
<path d="M648.2 153.7 L929 335" stroke="#000" stroke-width="4.2" stroke-dasharray="14 9.3" fill="none"/>
<path d="M938.2 319 L915.7 352.2 L961.5 357.7 Z" fill="#000"/>
<rect x="718.1" y="369.1" width="550.9" height="354.79999999999995" fill="#fff"/>
<g fill="none" stroke="#212121" stroke-width="3.9">
<rect x="718.1" y="369.1" width="550.9" height="354.79999999999995"/>
<path d="M828.3 723.9V716.4 M828.3 369.1V376.6 M1048.6 723.9V716.4 M1048.6 369.1V376.6 M718.1 576.1H725.6 M1269.0 576.1H1261.5 M718.1 428.2H725.6 M1269.0 428.2H1261.5"/>
</g>
<g clip-path="url(#ci)" fill="none" stroke-width="7.3" stroke-linejoin="miter" stroke-miterlimit="4" stroke-linecap="butt">
<path d="M718.1 575.6H1269.0" stroke="#0072BD"/>
<path d="M988.2 760.0 L988.2 755.7 L988.3 751.6 L988.3 747.6 L988.3 743.5 L988.4 739.3 L988.4 734.7 L988.4 729.6 L988.5 723.9 L988.7 709.6 L988.8 692.3 L989.1 672.8 L989.3 651.8 L989.6 630.4 L989.9 609.2 L990.2 589.1 L990.5 571.0 L990.7 557.8 L991.0 544.8 L991.3 532.2 L991.5 519.9 L991.8 508.1 L992.1 496.6 L992.4 485.6 L992.7 475.0 L992.9 467.2 L993.1 459.7 L993.4 452.3 L993.6 445.1 L993.8 438.3 L994.1 431.8 L994.3 425.7 L994.6 420.0 L994.8 416.4 L995.0 413.0 L995.2 409.7 L995.4 406.5 L995.6 403.6 L995.8 400.8 L996.0 398.3 L996.3 396.0 L996.5 394.8 L996.6 393.5 L996.8 392.3 L996.9 391.1 L997.1 390.1 L997.4 388.8 L998.1 390.1 L998.3 391.1 L998.4 392.3 L998.6 393.5 L998.7 394.8 L998.9 396.0 L999.2 398.3 L999.4 400.8 L999.6 403.6 L999.8 406.5 L1000.0 409.7 L1000.2 413.0 L1000.4 416.4 L1000.6 420.0 L1000.9 425.7 L1001.3 431.8 L1001.6 438.3 L1002.0 445.1 L1002.4 452.3 L1002.7 459.7 L1003.1 467.2 L1003.4 475.0 L1003.8 485.9 L1004.3 497.7 L1004.7 510.1 L1005.1 522.8 L1005.6 535.5 L1006.0 548.0 L1006.4 559.9 L1006.8 571.0 L1007.1 579.2 L1007.4 587.3 L1007.7 595.2 L1008.0 602.8 L1008.2 610.2 L1008.5 617.2 L1008.9 623.8 L1009.2 630.0 L1009.5 634.2 L1009.7 638.7 L1010.0 643.2 L1010.3 647.4 L1010.6 651.1 L1010.8 654.1 L1011.1 656.1 L1012.0 654.1 L1012.2 651.1 L1012.5 647.4 L1012.8 643.2 L1013.1 638.7 L1013.3 634.2 L1013.6 630.0 L1013.9 623.6 L1014.2 616.3 L1014.5 608.5 L1014.8 600.4 L1015.1 592.4 L1015.4 584.6 L1015.7 577.4 L1016.1 571.0 L1016.4 567.2 L1016.6 563.4 L1016.9 559.9 L1017.2 556.5 L1017.5 553.3 L1017.9 550.3 L1018.3 547.5 L1018.7 545.0 L1019.0 543.5 L1019.3 541.9 L1019.7 540.3 L1020.0 538.8 L1020.4 537.5 L1020.8 536.5 L1021.4 535.6 L1022.2 538.2 L1022.6 541.0 L1022.9 544.5 L1023.3 548.4 L1023.6 552.4 L1023.9 556.4 L1024.2 560.0 L1024.6 564.7 L1024.9 570.3 L1025.3 576.4 L1025.6 582.3 L1026.0 587.8 L1026.3 592.3 L1026.7 595.4 L1027.0 596.5 L1027.5 594.0 L1027.8 591.4 L1028.1 588.2 L1028.4 584.6 L1028.6 581.1 L1028.9 577.8 L1029.2 575.0 L1029.4 572.9 L1029.7 570.6 L1029.9 568.2 L1030.2 565.9 L1030.4 563.9 L1030.7 562.3 L1030.9 561.2 L1031.7 562.4 L1032.0 564.2 L1032.3 566.3 L1032.5 568.6 L1032.8 571.0 L1033.1 573.2 L1033.4 575.0 L1033.7 576.5 L1034.0 578.1 L1034.2 579.8 L1034.5 581.4 L1034.8 582.8 L1035.1 584.0 L1035.7 585.0 L1036.3 583.4 L1036.5 581.8 L1036.8 579.8 L1037.0 577.6 L1037.3 575.5 L1037.6 573.6 L1037.9 572.0 L1038.4 570.0 L1038.7 569.0 L1039.2 567.2 L1039.8 566.1 L1040.5 567.0 L1040.8 568.1 L1041.0 569.4 L1041.3 570.9 L1041.5 572.4 L1041.7 573.8 L1042.0 575.0 L1042.2 576.1 L1042.5 577.4 L1042.7 578.7 L1043.0 580.0 L1043.2 581.2 L1043.7 582.8 L1044.5 582.1 L1044.7 581.1 L1045.0 579.9 L1045.2 578.6 L1045.5 577.3 L1045.7 576.1 L1046.0 575.0 L1046.5 573.1 L1046.8 572.1 L1047.3 570.3 L1047.8 569.2 L1048.6 570.4 L1049.0 572.2 L1049.1 573.2 L1049.5 575.0 L1049.9 576.8 L1050.1 577.8 L1050.4 579.6 L1050.8 580.8 L1051.6 579.7 L1051.9 578.0 L1052.3 576.3 L1052.7 574.8 L1053.1 573.4 L1053.4 572.1 L1053.8 570.7 L1054.0 570.0 L1060 575.3 L1272 575.3" stroke="#0000FF" stroke-linejoin="round"/>
<path d="M1052.0 569.7 L1054.0 569.1 L1056.0 568.8 L1058.0 568.0 L1060.0 568.4 L1062.0 568.3 L1064.0 568.4 L1066.0 568.4 L1068.0 568.7 L1070.0 568.8 L1072.0 568.8 L1074.0 569.6 L1076.0 569.7 L1078.0 569.9 L1080.0 569.3 L1082.0 569.0 L1084.0 568.7 L1086.0 568.2 L1088.0 568.8 L1090.0 568.1 L1092.0 568.1 L1094.0 568.4 L1096.0 569.1 L1098.0 568.9 L1100.0 568.8 L1102.0 569.0 L1104.0 569.6 L1106.0 569.3 L1108.0 569.1 L1110.0 569.1 L1112.0 569.2 L1114.0 569.4 L1116.0 568.2 L1118.0 568.3 L1120.0 568.2 L1122.0 567.7 L1124.0 568.3 L1126.0 568.5 L1128.0 569.3 L1130.0 569.1 L1132.0 568.8 L1134.0 569.6 L1136.0 569.3 L1138.0 568.7 L1140.0 568.9 L1142.0 568.7 L1144.0 568.4 L1146.0 568.5 L1148.0 567.7 L1150.0 568.3 L1152.0 568.8 L1154.0 568.9 L1156.0 569.2 L1158.0 569.4 L1160.0 569.7 L1162.0 569.0 L1164.0 569.6 L1166.0 568.8 L1168.0 569.0 L1170.0 568.4 L1172.0 569.1 L1174.0 569.0 L1176.0 568.4 L1178.0 568.9 L1180.0 568.3 L1182.0 568.6 L1184.0 568.8 L1186.0 568.7 L1188.0 569.3 L1190.0 569.9 L1192.0 569.1 L1194.0 569.6 L1196.0 569.2 L1198.0 569.6 L1200.0 569.0 L1202.0 568.8 L1204.0 568.7 L1206.0 568.5 L1208.0 568.0 L1210.0 568.9 L1212.0 568.3 L1214.0 569.0 L1216.0 569.3 L1218.0 569.0 L1220.0 569.4 L1222.0 569.7 L1224.0 569.3 L1226.0 568.9 L1228.0 568.1 L1230.0 568.4 L1232.0 568.4 L1234.0 568.3 L1236.0 568.1 L1238.0 568.6 L1240.0 568.4 L1242.0 568.8 L1244.0 569.2 L1246.0 569.0 L1248.0 569.3 L1250.0 570.0 L1252.0 569.6 L1254.0 568.8 L1256.0 569.0 L1258.0 569.0 L1260.0 569.0 L1262.0 568.5 L1264.0 568.2 L1266.0 568.2 L1268.0 568.7 L1270.0 568.8 L1272.0 568.8 L1272.0 582.2 L1270.0 582.3 L1268.0 582.6 L1266.0 582.1 L1264.0 582.4 L1262.0 582.3 L1260.0 582.0 L1258.0 581.5 L1256.0 582.0 L1254.0 581.2 L1252.0 581.5 L1250.0 581.2 L1248.0 581.0 L1246.0 581.7 L1244.0 581.9 L1242.0 582.0 L1240.0 582.3 L1238.0 582.1 L1236.0 582.2 L1234.0 582.3 L1232.0 582.9 L1230.0 582.4 L1228.0 581.9 L1226.0 582.0 L1224.0 581.5 L1222.0 581.4 L1220.0 581.7 L1218.0 581.2 L1216.0 581.0 L1214.0 581.3 L1212.0 581.8 L1210.0 582.0 L1208.0 582.5 L1206.0 582.0 L1204.0 582.6 L1202.0 582.5 L1200.0 582.3 L1198.0 582.5 L1196.0 582.3 L1194.0 581.7 L1192.0 582.1 L1190.0 581.2 L1188.0 581.5 L1186.0 581.4 L1184.0 581.5 L1182.0 581.3 L1180.0 581.6 L1178.0 581.8 L1176.0 582.3 L1174.0 581.9 L1172.0 582.3 L1170.0 582.3 L1168.0 582.0 L1166.0 583.1 L1164.0 582.2 L1162.0 581.6 L1160.0 582.3 L1158.0 581.4 L1156.0 581.7 L1154.0 581.7 L1152.0 581.2 L1150.0 581.3 L1148.0 581.4 L1146.0 581.6 L1144.0 581.4 L1142.0 581.7 L1140.0 582.2 L1138.0 582.6 L1136.0 582.6 L1134.0 582.9 L1132.0 582.5 L1130.0 582.0 L1128.0 582.0 L1126.0 581.2 L1124.0 581.3 L1122.0 581.2 L1120.0 581.5 L1118.0 581.6 L1116.0 581.3 L1114.0 581.4 L1112.0 581.3 L1110.0 581.9 L1108.0 582.2 L1106.0 582.4 L1104.0 582.1 L1102.0 583.0 L1100.0 582.7 L1098.0 582.2 L1096.0 582.0 L1094.0 581.8 L1092.0 581.8 L1090.0 581.6 L1088.0 581.6 L1086.0 581.6 L1084.0 581.8 L1082.0 581.8 L1080.0 581.6 L1078.0 581.9 L1076.0 581.9 L1074.0 582.0 L1072.0 582.9 L1070.0 582.2 L1068.0 583.0 L1066.0 582.2 L1064.0 582.3 L1062.0 582.4 L1060.0 581.9 L1058.0 581.8 L1056.0 581.5 L1054.0 581.3 L1052.0 581.4Z" fill="#0000FF" stroke="none"/>
<path d="M917.22 759.94 L917.25 758.70 L917.28 757.46 L917.32 756.23 L917.35 754.99 L917.38 753.75 L917.41 752.51 L917.45 751.27 L917.48 750.03 L917.52 748.79 L917.55 747.55 L917.59 746.31 L917.62 745.07 L917.66 743.83 L917.70 742.58 L917.73 741.34 L917.77 740.10 L917.81 738.86 L917.85 737.62 L917.89 736.37 L917.92 735.13 L917.96 733.88 L918.00 732.64 L918.04 731.40 L918.09 730.15 L918.13 728.91 L918.17 727.66 L918.21 726.42 L918.25 725.17 L918.30 723.93 L918.34 722.68 L918.39 721.43 L918.43 720.19 L918.47 718.94 L918.52 717.69 L918.57 716.45 L918.61 715.20 L918.66 713.95 L918.71 712.71 L918.75 711.46 L918.80 710.21 L918.85 708.96 L918.90 707.71 L918.95 706.47 L919.00 705.22 L919.05 703.97 L919.10 702.72 L919.15 701.47 L919.20 700.22 L919.25 698.97 L919.31 697.72 L919.36 696.47 L919.41 695.23 L919.47 693.98 L919.52 692.73 L919.58 691.48 L919.63 690.23 L919.69 688.98 L919.74 687.73 L919.80 686.48 L919.86 685.23 L919.92 683.98 L919.97 682.73 L920.03 681.48 L920.09 680.23 L920.15 678.98 L920.21 677.72 L920.27 676.47 L920.33 675.22 L920.39 673.97 L920.46 672.72 L920.52 671.47 L920.58 670.22 L920.64 668.97 L920.71 667.72 L920.77 666.47 L920.84 665.22 L920.90 663.97 L920.97 662.72 L921.03 661.47 L921.10 660.22 L921.17 658.97 L921.24 657.72 L921.30 656.47 L921.37 655.22 L921.44 653.97 L921.51 652.72 L921.58 651.47 L921.65 650.22 L921.72 648.97 L921.79 647.72 L921.86 646.47 L921.94 645.22 L922.01 643.97 L922.08 642.72 L922.16 641.47 L922.23 640.23 L922.31 638.98 L922.38 637.73 L922.46 636.48 L922.53 635.23 L922.61 633.98 L922.69 632.74 L922.76 631.49 L922.84 630.24 L922.92 628.99 L923.00 627.75 L923.08 626.50 L923.16 625.25 L923.24 624.00 L923.32 622.76 L923.40 621.51 L923.49 620.27 L923.57 619.02 L923.65 617.77 L923.74 616.53 L923.82 615.28 L923.91 614.04 L923.99 612.79 L924.08 611.55 L924.16 610.30 L924.25 609.06 L924.34 607.82 L924.42 606.57 L924.51 605.33 L924.60 604.09 L924.69 602.84 L924.78 601.60 L924.87 600.36 L924.96 599.12 L925.05 597.88 L925.14 596.64 L925.24 595.40 L925.33 594.15 L925.42 592.91 L925.52 591.68 L925.61 590.44 L925.71 589.20 L925.80 587.96 L925.90 586.72 L925.99 585.48 L926.09 584.24 L926.19 583.01 L926.29 581.77 L926.38 580.53 L926.48 579.30 L926.58 578.06 L926.68 576.82 L926.78 575.59 L926.88 574.36 L926.99 573.12 L927.09 571.89 L927.19 570.65 L927.29 569.42 L927.40 568.19 L927.50 566.96 L927.61 565.72 L927.71 564.49 L927.82 563.26 L927.92 562.03 L928.03 560.80 L928.14 559.57 L928.25 558.34 L928.36 557.11 L928.47 555.89 L928.58 554.66 L928.70 553.43 L928.82 552.20 L928.94 550.97 L929.06 549.74 L929.19 548.51 L929.33 547.28 L929.46 546.04 L929.60 544.81 L929.75 543.58 L929.90 542.34 L930.05 541.10 L930.21 539.86 L930.38 538.63 L930.55 537.38 L930.73 536.14 L930.92 534.90 L931.11 533.65 L931.31 532.40 L931.52 531.15 L931.74 529.90 L931.96 528.64 L932.20 527.39 L932.44 526.13 L932.69 524.86 L932.95 523.60 L933.22 522.33 L933.48 521.16 L933.75 519.98 L934.03 518.80 L934.31 517.62 L934.61 516.44 L934.91 515.25 L935.23 514.06 L935.56 512.87 L935.90 511.68 L936.26 510.50 L936.66 509.33 L937.09 508.20 L937.62 507.02 L938.22 505.89 L938.90 504.83 L939.67 503.86 L940.57 502.96 L941.61 502.22 L942.74 501.77 L943.95 501.76 L945.07 502.21 L946.08 502.93 L947.00 503.76 L947.89 504.64 L948.74 505.56 L949.57 506.50 L950.38 507.47 L951.15 508.48 L951.91 509.50 L952.63 510.56 L953.34 511.63 L953.98 512.65 L954.60 513.69 L955.21 514.75 L955.80 515.82 L956.37 516.91 L956.94 518.02 L957.49 519.13 L958.03 520.26 L958.57 521.40 L959.09 522.55 L959.61 523.71 L960.12 524.88 L960.62 526.06 L961.12 527.24 L961.61 528.43 L962.11 529.62 L962.60 530.82 L963.09 532.01 L963.58 533.21 L964.07 534.41 L964.57 535.61 L965.07 536.81 L965.57 538.00 L966.08 539.19 L966.59 540.38 L967.12 541.56 L967.65 542.73 L968.19 543.89 L968.74 545.05 L969.30 546.19 L969.88 547.33 L970.47 548.45 L971.08 549.56 L971.70 550.65 L972.33 551.73 L972.99 552.80 L973.66 553.85 L974.35 554.88 L975.07 555.89 L975.80 556.88 L976.56 557.84 L977.34 558.79 L978.15 559.71 L978.98 560.62 L979.83 561.49 L980.70 562.35 L981.60 563.18 L982.52 563.99 L983.45 564.78 L984.41 565.54 L985.38 566.29 L986.38 567.00 L987.39 567.70 L988.42 568.37 L989.46 569.02 L990.52 569.65 L991.60 570.25 L992.69 570.83 L993.80 571.39 L994.91 571.93 L996.05 572.44 L997.19 572.92 L998.34 573.39 L999.51 573.83 L1000.69 574.25 L1001.87 574.64 L1003.07 575.02 L1004.27 575.36 L1005.48 575.69 L1006.70 575.99 L1007.92 576.27 L1009.16 576.52 L1010.39 576.75 L1011.63 576.96 L1012.88 577.15 L1014.13 577.31 L1015.38 577.44 L1016.63 577.56 L1017.89 577.65 L1019.15 577.71 L1020.40 577.75 L1021.66 577.77 L1022.92 577.77 L1024.17 577.74 L1025.39 577.70 L1026.59 577.68 L1027.79 577.65 L1028.99 577.63 L1030.19 577.60 L1031.39 577.57 L1032.59 577.53 L1033.79 577.50 L1034.99 577.46 L1036.19 577.43 L1037.39 577.39 L1038.59 577.35 L1039.79 577.31 L1040.99 577.26 L1042.19 577.21 L1043.39 577.16 L1044.59 577.09 L1045.79 577.03 L1046.99 576.96 L1048.19 576.89 L1049.39 576.82 L1050.59 576.75 L1051.79 576.68 L1052.99 576.61 L1054.19 576.54 L1055.39 576.48 L1056.59 576.42 L1057.79 576.37 L1058.99 576.33 L1060.19 576.29 L1061.39 576.26 L1062.59 576.23 L1063.79 576.20 L1064.99 576.17 L1066.19 576.13 L1067.39 576.10 L1068.59 576.07 L1069.79 576.04 L1070.99 576.02 L1072.19 575.99 L1073.39 575.96 L1074.59 575.93 L1075.79 575.91 L1076.99 575.88 L1078.19 575.86 L1079.39 575.83 L1080.59 575.81 L1081.79 575.79 L1082.99 575.77 L1084.19 575.75 L1085.39 575.73 L1086.59 575.71 L1087.79 575.69 L1088.99 575.68 L1090.19 575.66 L1091.39 575.65 L1092.59 575.64 L1093.79 575.63 L1094.99 575.62 L1096.19 575.61 L1097.39 575.61 L1098.59 575.60 L1099.79 575.60 L1100.99 575.60 L1102.19 575.60 L1103.39 575.60 L1104.59 575.59 L1105.79 575.59 L1106.99 575.59 L1108.19 575.59 L1109.39 575.59 L1110.59 575.59 L1111.79 575.58 L1112.99 575.58 L1114.19 575.58 L1115.39 575.58 L1116.59 575.58 L1117.79 575.58 L1118.99 575.58 L1120.19 575.57 L1121.39 575.57 L1122.59 575.57 L1123.79 575.57 L1124.99 575.57 L1126.19 575.57 L1127.39 575.57 L1128.59 575.56 L1129.79 575.56 L1130.99 575.56 L1132.19 575.56 L1133.39 575.56 L1134.59 575.56 L1135.79 575.56 L1136.99 575.56 L1138.19 575.56 L1139.39 575.55 L1140.59 575.55 L1141.79 575.55 L1142.99 575.55 L1144.19 575.55 L1145.39 575.55 L1146.59 575.55 L1147.79 575.55 L1148.99 575.55 L1150.19 575.54 L1151.39 575.54 L1152.59 575.54 L1153.79 575.54 L1154.99 575.54 L1156.19 575.54 L1157.39 575.54 L1158.59 575.54 L1159.79 575.54 L1160.99 575.54 L1162.19 575.53 L1163.39 575.53 L1164.59 575.53 L1165.79 575.53 L1166.99 575.53 L1168.19 575.53 L1169.39 575.53 L1170.59 575.53 L1171.79 575.53 L1172.99 575.53 L1174.19 575.53 L1175.39 575.53 L1176.59 575.53 L1177.79 575.52 L1178.99 575.52 L1180.19 575.52 L1181.39 575.52 L1182.59 575.52 L1183.79 575.52 L1184.99 575.52 L1186.19 575.52 L1187.39 575.52 L1188.59 575.52 L1189.79 575.52 L1190.99 575.52 L1192.19 575.52 L1193.39 575.52 L1194.59 575.52 L1195.79 575.52 L1196.99 575.51 L1198.19 575.51 L1199.39 575.51 L1200.59 575.51 L1201.79 575.51 L1202.99 575.51 L1204.19 575.51 L1205.39 575.51 L1206.59 575.51 L1207.79 575.51 L1208.99 575.51 L1210.19 575.51 L1211.39 575.51 L1212.59 575.51 L1213.79 575.51 L1214.99 575.51 L1216.19 575.51 L1217.39 575.51 L1218.59 575.51 L1219.79 575.51 L1220.99 575.51 L1222.19 575.51 L1223.39 575.51 L1224.59 575.51 L1225.79 575.51 L1226.99 575.50 L1228.19 575.50 L1229.39 575.50 L1230.59 575.50 L1231.79 575.50 L1232.99 575.50 L1234.19 575.50 L1235.39 575.50 L1236.59 575.50 L1237.79 575.50 L1238.99 575.50 L1240.19 575.50 L1241.39 575.50 L1242.59 575.50 L1243.79 575.50 L1244.99 575.50 L1246.19 575.50 L1247.39 575.50 L1248.59 575.50 L1249.79 575.50 L1250.99 575.50 L1252.19 575.50 L1253.39 575.50 L1254.59 575.50 L1255.79 575.50 L1256.99 575.50 L1258.19 575.50 L1259.39 575.50 L1260.59 575.50 L1261.79 575.50 L1262.99 575.50 L1264.19 575.50 L1265.39 575.50 L1266.59 575.50 L1267.79 575.50 L1268.99 575.50 L1270.19 575.50 L1271.39 575.50 L1272.00 575.50" stroke="#008000"/>
<path d="M776.17 760.21 L776.24 758.99 L776.30 757.76 L776.37 756.54 L776.44 755.32 L776.50 754.10 L776.57 752.89 L776.64 751.67 L776.70 750.46 L776.77 749.24 L776.84 748.03 L776.90 746.82 L776.97 745.61 L777.04 744.40 L777.11 743.19 L777.18 741.98 L777.25 740.78 L777.32 739.57 L777.39 738.37 L777.46 737.16 L777.53 735.96 L777.60 734.76 L777.67 733.56 L777.74 732.36 L777.82 731.16 L777.90 729.86 L777.98 728.55 L778.06 727.25 L778.14 725.94 L778.22 724.64 L778.30 723.34 L778.39 722.04 L778.47 720.74 L778.56 719.44 L778.64 718.15 L778.73 716.85 L778.82 715.56 L778.91 714.26 L779.00 712.97 L779.09 711.68 L779.18 710.38 L779.27 709.09 L779.36 707.80 L779.46 706.51 L779.55 705.23 L779.65 703.94 L779.74 702.65 L779.84 701.36 L779.94 700.08 L780.04 698.79 L780.14 697.51 L780.24 696.23 L780.35 694.94 L780.45 693.66 L780.56 692.38 L780.67 691.10 L780.77 689.82 L780.88 688.53 L780.99 687.25 L781.11 685.98 L781.22 684.70 L781.33 683.42 L781.45 682.14 L781.57 680.86 L781.68 679.59 L781.80 678.31 L781.93 677.03 L782.05 675.76 L782.17 674.48 L782.30 673.20 L782.43 671.93 L782.55 670.65 L782.69 669.38 L782.82 668.10 L782.95 666.83 L783.09 665.56 L783.22 664.28 L783.36 663.01 L783.50 661.73 L783.64 660.46 L783.78 659.19 L783.93 657.91 L784.08 656.64 L784.22 655.37 L784.38 654.09 L784.53 652.82 L784.68 651.55 L784.84 650.27 L784.99 649.00 L785.15 647.73 L785.31 646.45 L785.48 645.18 L785.64 643.91 L785.81 642.63 L785.98 641.36 L786.15 640.08 L786.32 638.81 L786.50 637.54 L786.68 636.26 L786.85 634.99 L787.04 633.71 L787.22 632.43 L787.40 631.16 L787.59 629.88 L787.78 628.61 L787.97 627.33 L788.17 626.05 L788.37 624.77 L788.56 623.50 L788.76 622.22 L788.97 620.94 L789.17 619.66 L789.38 618.38 L789.59 617.10 L789.80 615.82 L790.02 614.53 L790.24 613.25 L790.46 611.97 L790.68 610.69 L790.90 609.40 L791.13 608.12 L791.36 606.83 L791.59 605.55 L791.83 604.26 L792.07 602.97 L792.29 601.79 L792.51 600.61 L792.73 599.43 L792.96 598.25 L793.19 597.06 L793.42 595.88 L793.65 594.69 L793.89 593.51 L794.13 592.32 L794.37 591.14 L794.61 589.95 L794.85 588.76 L795.10 587.57 L795.35 586.38 L795.60 585.19 L795.86 584.00 L796.11 582.81 L796.37 581.61 L796.63 580.42 L796.90 579.22 L797.17 578.03 L797.43 576.83 L797.71 575.63 L797.98 574.43 L798.26 573.23 L798.54 572.03 L798.82 570.83 L799.10 569.63 L799.39 568.43 L799.68 567.22 L799.97 566.02 L800.27 564.81 L800.57 563.60 L800.87 562.39 L801.17 561.19 L801.49 559.99 L801.81 558.79 L802.14 557.60 L802.48 556.42 L802.83 555.25 L803.20 554.08 L803.58 552.94 L803.97 551.80 L804.42 550.59 L804.90 549.39 L805.40 548.22 L805.92 547.07 L806.47 545.95 L807.05 544.86 L807.66 543.80 L808.30 542.77 L809.03 541.70 L809.81 540.68 L810.63 539.70 L811.50 538.77 L812.42 537.89 L813.38 537.07 L814.40 536.31 L815.48 535.60 L816.52 535.01 L817.62 534.47 L818.75 534.00 L819.92 533.61 L821.12 533.29 L822.33 533.08 L823.56 532.96 L824.78 532.96 L826.00 533.08 L827.21 533.32 L828.40 533.68 L829.58 534.15 L830.74 534.70 L831.88 535.34 L832.92 535.97 L833.93 536.66 L834.93 537.38 L835.92 538.12 L836.89 538.89 L837.84 539.67 L838.77 540.46 L839.69 541.27 L840.60 542.09 L841.49 542.93 L842.37 543.77 L843.24 544.62 L844.10 545.48 L844.95 546.35 L845.80 547.22 L846.63 548.10 L847.46 548.99 L848.29 549.87 L849.11 550.76 L849.92 551.65 L850.74 552.54 L851.55 553.43 L852.36 554.32 L853.18 555.20 L854.07 556.16 L854.96 557.12 L855.85 558.06 L856.76 559.00 L857.66 559.93 L858.58 560.84 L859.51 561.75 L860.44 562.64 L861.39 563.51 L862.35 564.37 L863.32 565.21 L864.31 566.03 L865.32 566.82 L866.34 567.60 L867.39 568.36 L868.44 569.09 L869.52 569.79 L870.61 570.48 L871.72 571.14 L872.85 571.78 L873.98 572.40 L875.13 572.99 L876.30 573.56 L877.48 574.10 L878.66 574.62 L879.86 575.12 L881.07 575.60 L882.29 576.05 L883.52 576.47 L884.76 576.88 L886.00 577.26 L887.25 577.61 L888.51 577.94 L889.77 578.25 L891.04 578.53 L892.31 578.79 L893.59 579.02 L894.87 579.23 L896.15 579.41 L897.44 579.57 L898.72 579.70 L900.01 579.81 L901.30 579.90 L902.58 579.96 L903.87 580.01 L905.16 580.03 L906.45 580.03 L907.74 580.02 L909.04 579.98 L910.33 579.94 L911.62 579.87 L912.92 579.79 L914.21 579.70 L915.50 579.60 L916.80 579.48 L918.09 579.35 L919.39 579.22 L920.69 579.07 L921.98 578.92 L923.28 578.76 L924.57 578.60 L925.87 578.43 L927.17 578.26 L928.47 578.08 L929.65 577.92 L930.84 577.76 L932.03 577.59 L933.33 577.42 L934.63 577.24 L935.92 577.07 L937.22 576.91 L938.52 576.74 L939.81 576.59 L941.11 576.44 L942.41 576.30 L943.70 576.17 L945.00 576.04 L946.29 575.93 L947.59 575.83 L948.88 575.73 L950.18 575.65 L951.47 575.57 L952.76 575.50 L954.06 575.44 L955.35 575.38 L956.64 575.33 L957.94 575.28 L959.23 575.25 L960.52 575.21 L961.82 575.18 L963.11 575.16 L964.40 575.14 L965.70 575.13 L966.99 575.11 L968.29 575.10 L969.58 575.10 L970.87 575.09 L972.17 575.09 L973.46 575.09 L974.76 575.09 L976.05 575.09 L977.35 575.09 L978.65 575.09 L979.94 575.09 L981.24 575.09 L982.54 575.09 L983.83 575.09 L985.13 575.09 L986.43 575.08 L987.73 575.07 L989.03 575.06 L990.33 575.04 L991.63 575.02 L992.94 574.99 L994.24 574.97 L995.54 574.93 L996.85 574.89 L998.15 574.85 L999.46 574.79 L1000.70 574.78 L1001.90 574.80 L1003.10 574.81 L1004.30 574.83 L1005.50 574.85 L1006.70 574.86 L1007.90 574.88 L1009.10 574.89 L1010.30 574.91 L1011.50 574.92 L1012.70 574.94 L1013.90 574.96 L1015.10 574.97 L1016.30 574.98 L1017.50 575.00 L1018.70 575.01 L1019.90 575.03 L1021.10 575.04 L1022.30 575.06 L1023.50 575.07 L1024.70 575.08 L1025.90 575.10 L1027.10 575.11 L1028.30 575.12 L1029.50 575.13 L1030.70 575.15 L1031.90 575.16 L1033.10 575.17 L1034.30 575.18 L1035.50 575.19 L1036.70 575.20 L1037.90 575.21 L1039.10 575.22 L1040.30 575.23 L1041.50 575.24 L1042.70 575.25 L1043.90 575.26 L1045.10 575.27 L1046.30 575.28 L1047.50 575.28 L1048.70 575.29 L1049.90 575.30 L1051.10 575.31 L1052.30 575.31 L1053.50 575.32 L1054.70 575.33 L1055.90 575.33 L1057.10 575.34 L1058.30 575.35 L1059.50 575.36 L1060.70 575.36 L1061.90 575.37 L1063.10 575.38 L1064.30 575.38 L1065.50 575.39 L1066.70 575.40 L1067.90 575.40 L1069.10 575.41 L1070.30 575.41 L1071.50 575.42 L1072.70 575.43 L1073.90 575.43 L1075.10 575.44 L1076.30 575.44 L1077.50 575.45 L1078.70 575.45 L1079.90 575.46 L1081.10 575.46 L1082.30 575.47 L1083.50 575.47 L1084.70 575.47 L1085.90 575.48 L1087.10 575.48 L1088.30 575.48 L1089.50 575.49 L1090.70 575.49 L1091.90 575.49 L1093.10 575.49 L1094.30 575.50 L1095.50 575.50 L1096.70 575.50 L1097.90 575.50 L1099.10 575.50 L1100.30 575.50 L1101.55 575.50 L1102.80 575.50 L1104.05 575.50 L1105.30 575.50 L1106.55 575.50 L1107.80 575.50 L1109.05 575.50 L1110.30 575.50 L1111.55 575.50 L1112.80 575.50 L1114.05 575.50 L1115.30 575.50 L1116.55 575.50 L1117.80 575.50 L1119.05 575.50 L1120.30 575.50 L1121.55 575.50 L1122.80 575.50 L1124.05 575.50 L1125.30 575.50 L1126.55 575.50 L1127.80 575.50 L1129.05 575.50 L1130.30 575.50 L1131.55 575.50 L1132.80 575.50 L1134.05 575.50 L1135.30 575.50 L1136.55 575.50 L1137.80 575.50 L1139.05 575.50 L1140.30 575.50 L1141.55 575.50 L1142.80 575.50 L1144.05 575.50 L1145.30 575.50 L1146.55 575.50 L1147.80 575.50 L1149.05 575.50 L1150.30 575.50 L1151.55 575.50 L1152.80 575.50 L1154.05 575.50 L1155.30 575.50 L1156.55 575.50 L1157.80 575.50 L1159.05 575.50 L1160.30 575.50 L1161.55 575.50 L1162.80 575.50 L1164.05 575.50 L1165.30 575.50 L1166.55 575.50 L1167.80 575.50 L1169.05 575.50 L1170.30 575.50 L1171.55 575.50 L1172.80 575.50 L1174.05 575.50 L1175.30 575.50 L1176.55 575.50 L1177.80 575.50 L1179.05 575.50 L1180.30 575.50 L1181.55 575.50 L1182.80 575.50 L1184.05 575.50 L1185.30 575.50 L1186.55 575.50 L1187.80 575.50 L1189.05 575.50 L1190.30 575.50 L1191.55 575.50 L1192.80 575.50 L1194.05 575.50 L1195.30 575.50 L1196.55 575.50 L1197.80 575.50 L1199.05 575.50 L1200.30 575.50 L1201.55 575.50 L1202.80 575.50 L1204.05 575.50 L1205.30 575.50 L1206.55 575.50 L1207.80 575.50 L1209.05 575.50 L1210.30 575.50 L1211.55 575.50 L1212.80 575.50 L1214.05 575.50 L1215.30 575.50 L1216.55 575.50 L1217.80 575.50 L1219.05 575.50 L1220.30 575.50 L1221.55 575.50 L1222.80 575.50 L1224.05 575.50 L1225.30 575.50 L1226.55 575.50 L1227.80 575.50 L1229.05 575.50 L1230.30 575.50 L1231.55 575.50 L1232.80 575.50 L1234.05 575.50 L1235.30 575.50 L1236.55 575.50 L1237.80 575.50 L1239.05 575.50 L1240.30 575.50 L1241.55 575.50 L1242.80 575.50 L1244.05 575.50 L1245.30 575.50 L1246.55 575.50 L1247.80 575.50 L1249.05 575.50 L1250.30 575.50 L1251.55 575.50 L1252.80 575.50 L1254.05 575.50 L1255.30 575.50 L1256.55 575.50 L1257.80 575.50 L1259.05 575.50 L1260.30 575.50 L1261.55 575.50 L1262.80 575.50 L1264.05 575.50 L1265.30 575.50 L1266.55 575.50 L1267.80 575.50 L1269.05 575.50 L1270.30 575.50 L1271.55 575.50 L1272.00 575.50" stroke="#FF0000"/>
</g>
<g font-family="'Liberation Sans', Arial, Helvetica, sans-serif" font-size="54.5" fill="#212121">
<text x="705.5" y="744.5" text-anchor="end">26.25</text>
<text x="705.5" y="596.7" text-anchor="end">26.3</text>
<text x="705.5" y="448.8" text-anchor="end">26.35</text>
<text x="827.3" y="790.5" text-anchor="middle">0.02</text>
<text x="1047.6" y="790.5" text-anchor="middle">0.04</text>
<text x="1268.0" y="790.5" text-anchor="middle">0.06</text>
</g>
<rect x="1440.3" y="609.5" width="428.4000000000001" height="319.5" fill="#fff" stroke="#212121" stroke-width="4.3"/>
<g font-family="'Liberation Sans', Arial, Helvetica, sans-serif" font-size="57.8" fill="#000">
<path d="M1459.2 655.8H1659.8" stroke="#0072BD" stroke-width="8"/>
<text x="1674" y="678.6">Vref</text>
<path d="M1459.2 732H1659.8" stroke="#0000FF" stroke-width="8"/>
<text x="1674" y="754.8">CSMC</text>
<path d="M1459.2 807.2H1659.8" stroke="#008000" stroke-width="8"/>
<text x="1674" y="830.0">QSMC</text>
<path d="M1459.2 882.9H1659.8" stroke="#FF0000" stroke-width="8"/>
<text x="1674" y="905.7">GSMC</text>
</g>
</svg>
</body></html>
